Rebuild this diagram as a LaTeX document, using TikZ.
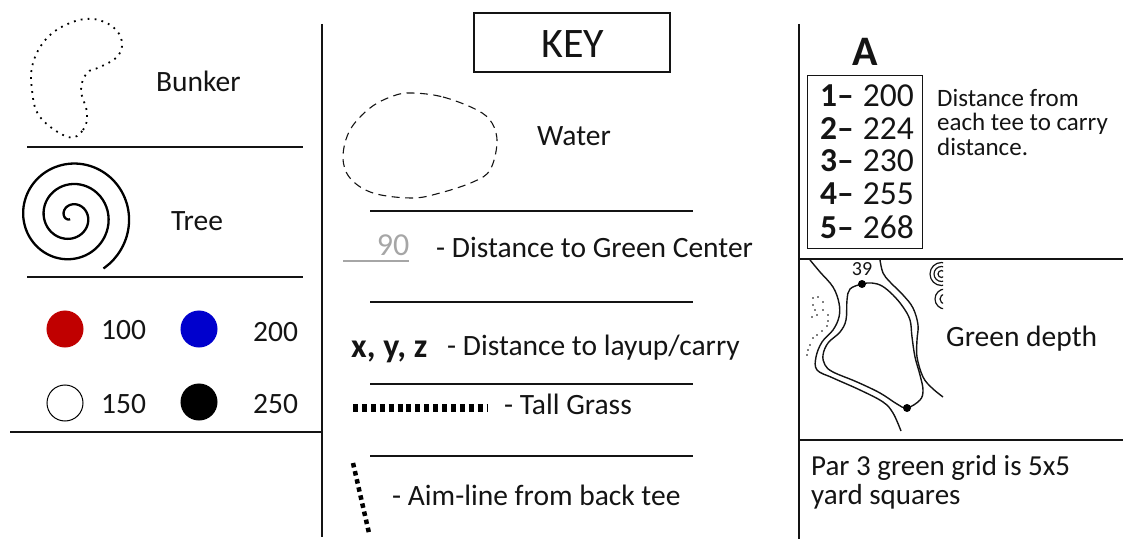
\documentclass[tikz,border=0pt]{standalone}
\usepackage{fontspec}
\setmainfont{Carlito}
\usetikzlibrary{calc}
\definecolor{rdot}{RGB}{192,0,0}
\definecolor{bdot}{RGB}{0,0,205}
\definecolor{inkc}{RGB}{20,20,20}
\definecolor{grayn}{RGB}{166,166,166}
\tikzset{
  rule/.style={draw=inkc,line width=1.7pt},
  label/.style={inner sep=0pt,anchor=west,font=\fontsize{29.5}{29.5}\selectfont,text=inkc},
  num/.style={inner sep=0pt,anchor=west,font=\fontsize{33.5}{33.5}\selectfont,text=inkc},
  dot/.style={circle,draw=black,line width=1pt,minimum size=36pt,inner sep=0pt},
  thinc/.style={draw=inkc,line width=1.4pt},
}
\begin{document}
\begin{tikzpicture}[x=1pt,y=-1pt]
\useasboundingbox (0,0) rectangle (1140,540);
% verticals
\draw[rule] (322,24) -- (322,537);
\draw[rule] (799,24) -- (799,539);
% left rules
\draw[rule] (27,147) -- (303,147);
\draw[rule] (27,277) -- (303,277);
\draw[rule] (10,432) -- (322,432);
% middle rules
\foreach \y in {211,302,384,456} \draw[rule] (370,\y) -- (693,\y);
\draw[draw=grayn,line width=1.2pt] (343,261) -- (409,261);
% right rules
\draw[rule] (799,259) -- (1123,259);
\draw[rule] (799,440) -- (1123,440);
% bunker
\draw[black,line width=1.8pt,dash pattern=on 1.8pt off 5.2pt] plot[smooth cycle,tension=0.65] coordinates {
 (68,137)(83,130)(87,113)(81,90)(87,73)(100,67)(117,57)(122,42)(113,27)(93,19)(70,23)(47,38)(33,63)(32,90)(40,117)};
\node[label] (bunker) at (156,81) {Bunker};
% tree
\draw[black,line width=2.3pt] plot[smooth,domain=-250:778,samples=160,variable=\t]
  ({71+(17+20.5*\t/360)*cos(\t)},{216.5+(17+20.5*\t/360)*sin(\t)});
\node[label] (tree) at (171,221) {Tree};
% dots
\node[dot,fill=rdot,draw=rdot] (red) at (65,329) {};
\node[dot,fill=bdot,draw=bdot] (blue) at (199,329) {};
\node[dot,fill=white] (white) at (65,403) {};
\node[dot,fill=black] (black) at (199,402) {};
\node[label] (n100) at (101,330) {100};
\node[label] (n200) at (253,332) {200};
\node[label] (n150) at (101,404) {150};
\node[label] (n250) at (253,404) {250};
% key
\node[draw=inkc,line width=1.7pt,minimum width=196pt,minimum height=59pt,inner sep=0pt] (key) at (572,42.5) {};
\node[inner sep=0pt,font=\fontsize{42}{42}\selectfont,text=inkc] (keyt) at (573,44) {KEY};
% water
\draw[inkc,line width=1.1pt,dash pattern=on 8pt off 5.5pt] plot[smooth cycle,tension=0.6] coordinates {
 (412,93)(443,97)(477,110)(492,123)(497,143)(490,170)(473,182)(440,193)(412,198)(373,193)(350,178)(343,157)(350,130)(370,108)(393,96)};
\node[label] (water) at (537,136) {Water};
% distance
\node[inner sep=0pt,font=\fontsize{32}{32}\selectfont,text=grayn] (ninety) at (393,245) {90};
\node[label] (dgc) at (436,247) {- Distance to Green Center};
\node[inner sep=0pt,anchor=west,font=\bfseries\fontsize{34}{34}\selectfont,text=inkc] (xyz) at (351,352) {x, y, z};
\node[label] (layup) at (447,348) {- Distance to layup/carry};
\node[label] (grass) at (504,404) {- Tall Grass};
\node[label] (aim) at (392,495) {- Aim-line from back tee};
\coordinate (g1) at (353,408);
\coordinate (g2) at (487,408);
\draw[black,line width=7.5pt,dash pattern=on 5pt off 3.9pt] (g1) -- (g2);
\coordinate (a1) at (353,463);
\coordinate (a2) at (369,533);
\draw[black,line width=4.5pt,dash pattern=on 4.5pt off 3.8pt] (a1) -- (a2);
% right panel
\node[inner sep=0pt,font=\bfseries\fontsize{42}{42}\selectfont,text=inkc] (aa) at (865,52) {A};
\node[draw=inkc,line width=1pt,minimum width=115pt,minimum height=172pt,inner sep=0pt] (tbl) at (864.5,162) {};
\foreach \i/\d/\y in {1/200/96,2/224/129,3/230/161,4/255/194,5/268/227}{
  \node[num] at (820,\y) {\textbf{\i–}\kern 9pt\d};
}
\node[inner sep=0pt,anchor=north west,align=left,font=\fontsize{25}{24.5}\selectfont,text=inkc] (dist) at (937,89) {Distance from\\each tee to carry\\distance.};
% green
\draw[thinc] plot[smooth,tension=0.6] coordinates {
 (810,260)(820,272)(833,287)(839,303)(839,317)(833,330)(822,342)(816,357)(817,370)(833,378)(860,390)(883,402)(893,413)(901,431)};
\draw[thinc] plot[smooth,tension=0.6] coordinates {
 (880,260)(883,273)(890,282)(903,295)(913,308)(918,325)(917,340)(917,357)(923,377)(932,388)(943,397)};
\draw[thinc] plot[smooth cycle,tension=0.6] coordinates {
 (862,284)(872,283)(882,286)(893,295)(903,307)(910,320)(912,337)(915,357)(920,375)(923,390)(920,400)(907,408)(897,404)(880,393)(857,382)(833,372)(825,365)(823,355)(828,343)(840,332)(846,320)(847,300)(850,289)};
\node[circle,fill=black,minimum size=8pt,inner sep=0pt] (pin1) at (862,284) {};
\node[circle,fill=black,minimum size=8pt,inner sep=0pt] (pin2) at (907,408) {};
\node[inner sep=0pt,font=\fontsize{20}{20}\selectfont,text=inkc] (n39) at (862,269) {39};
\begin{scope}
\clip (925,260) rectangle (943,320);
\foreach \r in {3.5,7.5,11.5} \draw[inkc,line width=1.2pt] (941.5,274) circle (\r);
\foreach \r in {5,10} \draw[inkc,line width=1.2pt] (945,299) circle (\r);
\end{scope}
\foreach \p in {(812,317),(817,315),(815,310),(813,305),(813,298),(818,297),(823,302),(823,310),(828,315),(828,321),(827,326),(822,331),(817,335),(813,338),(810,345),(808,350),(807,355)}
  \fill[black] \p circle (0.8);
\node[label] (gd) at (946,339) {Green depth};
\node[inner sep=0pt,anchor=north west,align=left,font=\fontsize{29}{29.5}\selectfont,text=inkc] (par) at (811,455) {Par 3 green grid is 5x5\\yard squares};
\end{tikzpicture}
\end{document}
